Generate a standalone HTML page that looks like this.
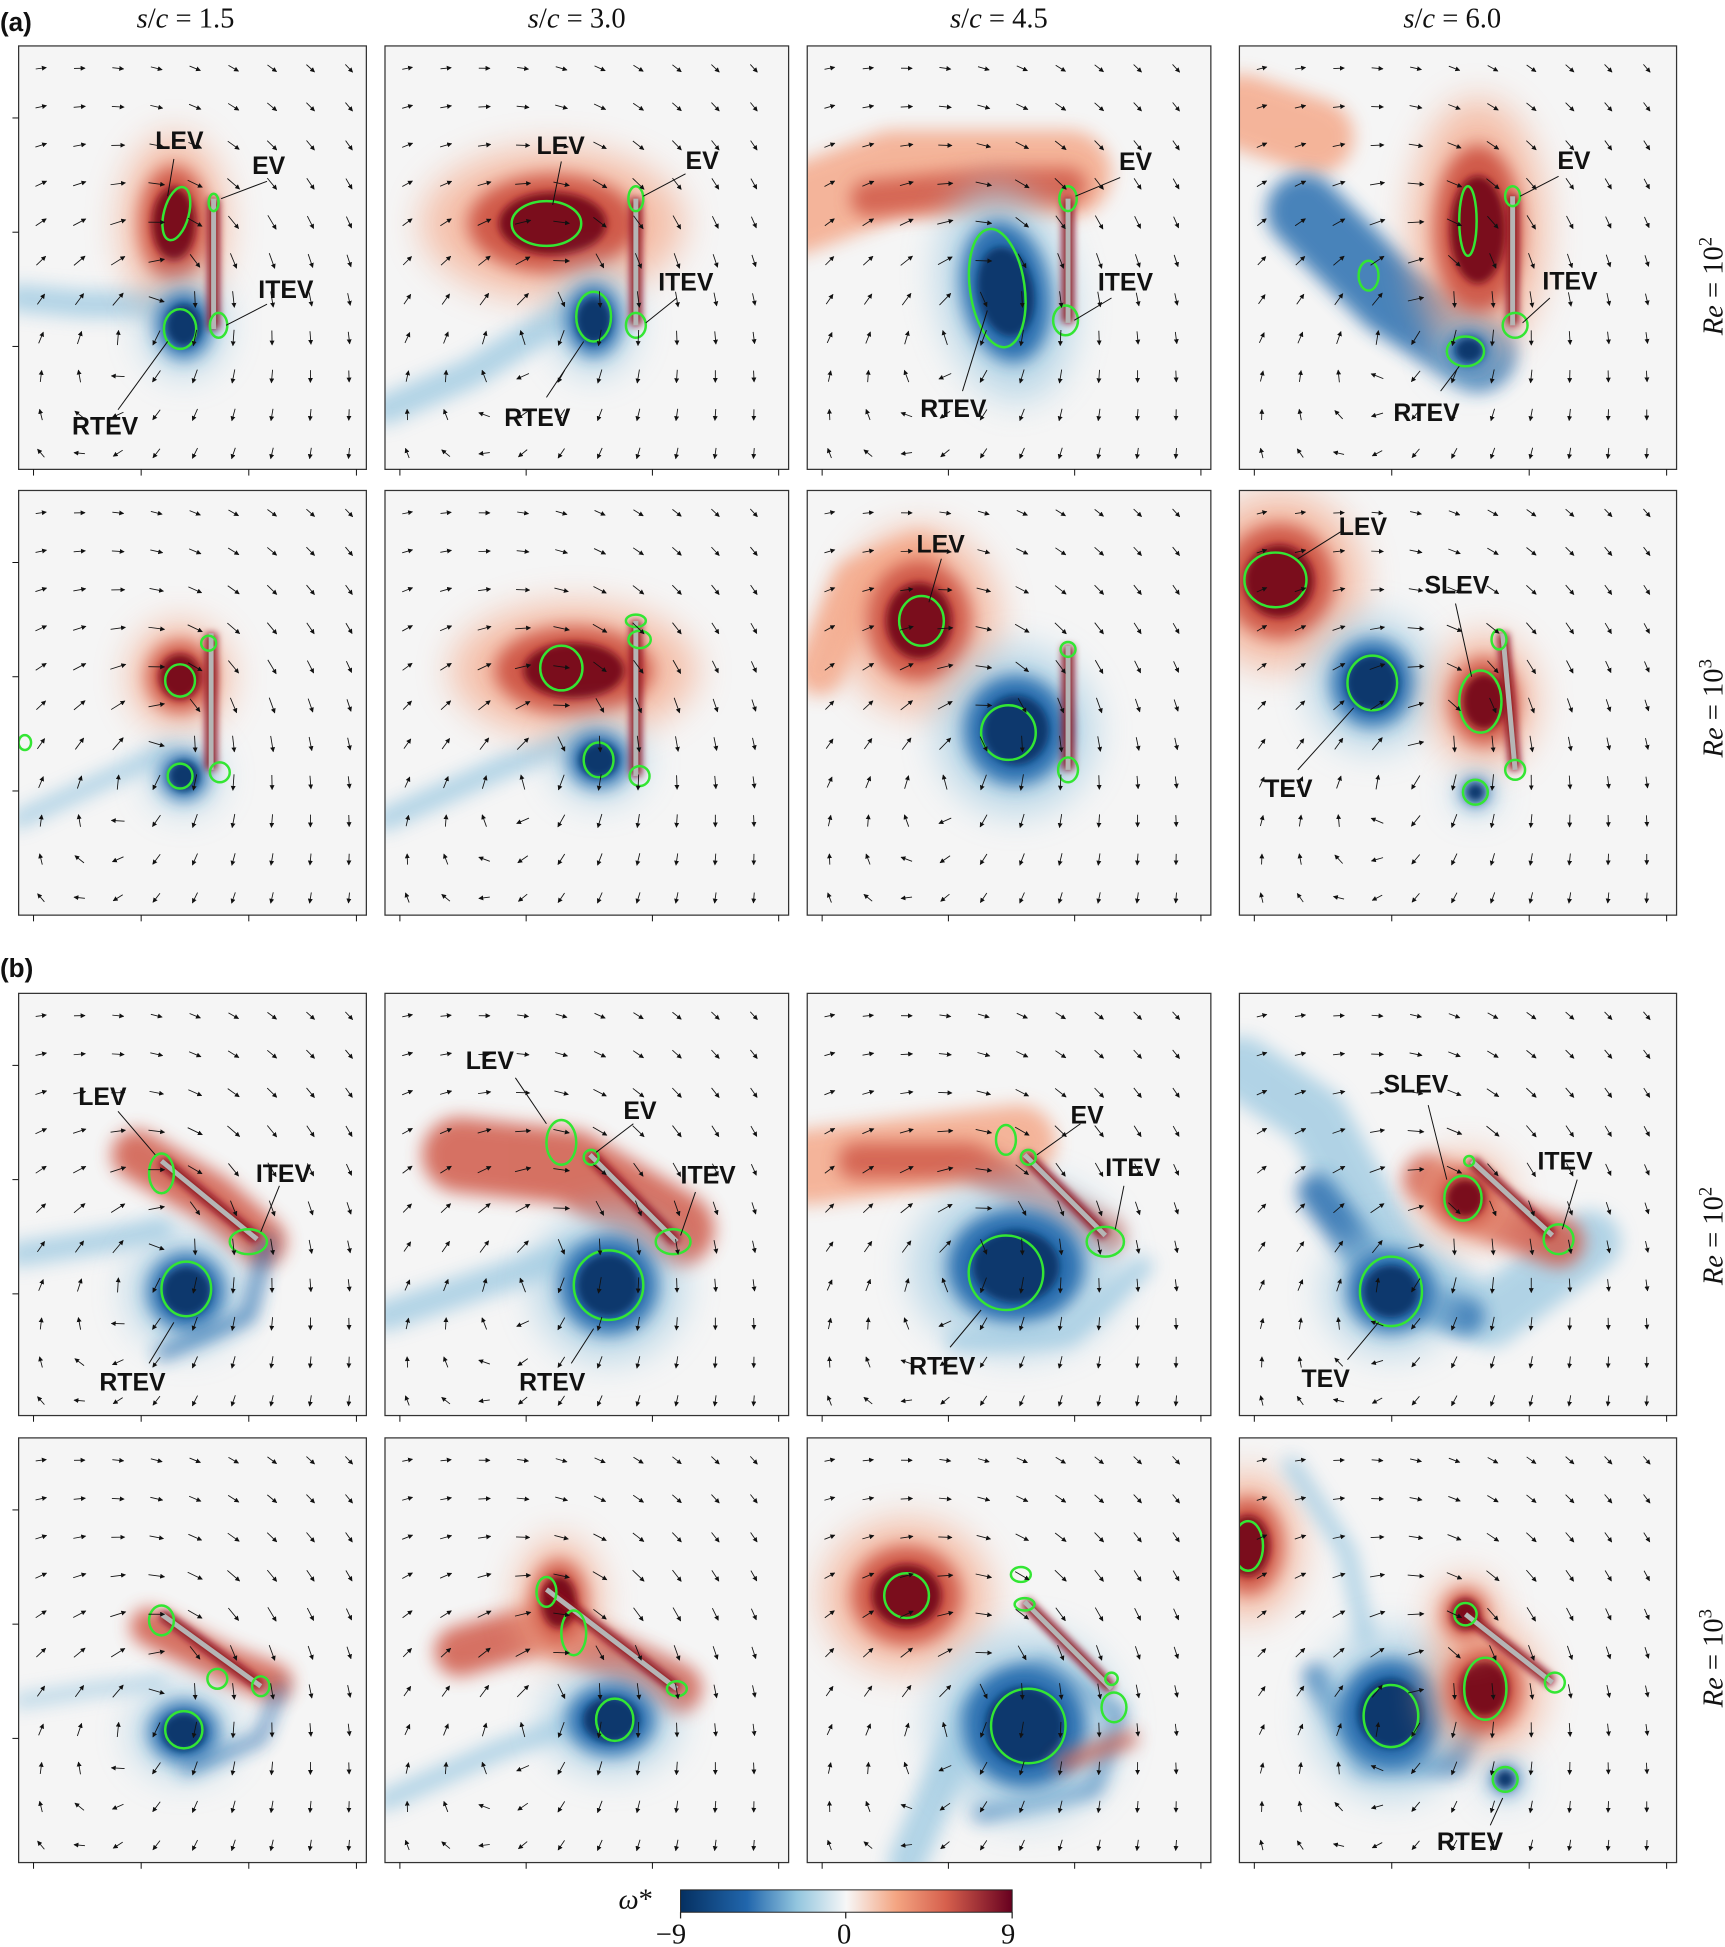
<!DOCTYPE html>
<html><head><meta charset="utf-8"><style>
html,body{margin:0;padding:0;background:#fff;}
svg{display:block}
.lb{font-family:"Liberation Sans",sans-serif;font-weight:bold;font-size:20px;fill:#111;}
.ti{font-family:"Liberation Serif",serif;font-size:23px;fill:#111;}
</style></head><body>
<svg id="s" width="1725" height="1947" viewBox="0 0 1389 1568" preserveAspectRatio="none" xmlns="http://www.w3.org/2000/svg">
<defs>
<filter id="b3" filterUnits="userSpaceOnUse" x="0" y="0" width="1389" height="1568"><feGaussianBlur stdDeviation="3"/></filter>
<filter id="b7" filterUnits="userSpaceOnUse" x="0" y="0" width="1389" height="1568"><feGaussianBlur stdDeviation="7"/></filter>
<filter id="b14" filterUnits="userSpaceOnUse" x="0" y="0" width="1389" height="1568"><feGaussianBlur stdDeviation="14"/></filter>
<linearGradient id="cb" x1="0" x2="1" y1="0" y2="0">
<stop offset="0" stop-color="#053061"/><stop offset="0.2" stop-color="#2166ac"/><stop offset="0.35" stop-color="#92c5de"/><stop offset="0.5" stop-color="#f7f7f7"/><stop offset="0.65" stop-color="#f4a582"/><stop offset="0.8" stop-color="#d6604d"/><stop offset="1" stop-color="#67001f"/>
</linearGradient>
<marker id="ah" markerWidth="4" markerHeight="4" refX="3.5" refY="2" orient="auto" markerUnits="userSpaceOnUse"><path d="M0,0 L4,2 L0,4z" fill="#111"/></marker>
</defs>
<g id="panels"></g>
<g id="texts">
<text class="lb" x="0" y="25" style="font-size:21px">(a)</text>
<text class="lb" x="0" y="787" style="font-size:21px">(b)</text>
<text class="ti" x="110" y="22"><tspan font-style="italic">s</tspan>/<tspan font-style="italic">c</tspan> = 1.5</text>
<text class="ti" x="425" y="22"><tspan font-style="italic">s</tspan>/<tspan font-style="italic">c</tspan> = 3.0</text>
<text class="ti" x="765" y="22"><tspan font-style="italic">s</tspan>/<tspan font-style="italic">c</tspan> = 4.5</text>
<text class="ti" x="1130" y="22"><tspan font-style="italic">s</tspan>/<tspan font-style="italic">c</tspan> = 6.0</text>
<text class="ti" transform="translate(1387,270) rotate(-90)"><tspan font-style="italic">Re</tspan> = 10<tspan dy="-9" font-size="15">2</tspan></text>
<text class="ti" transform="translate(1387,610) rotate(-90)"><tspan font-style="italic">Re</tspan> = 10<tspan dy="-9" font-size="15">3</tspan></text>
<text class="ti" transform="translate(1387,1035) rotate(-90)"><tspan font-style="italic">Re</tspan> = 10<tspan dy="-9" font-size="15">2</tspan></text>
<text class="ti" transform="translate(1387,1375) rotate(-90)"><tspan font-style="italic">Re</tspan> = 10<tspan dy="-9" font-size="15">3</tspan></text>

<text class="lb" x="125" y="120">LEV</text><text class="lb" x="203" y="140">EV</text><text class="lb" x="208" y="240">ITEV</text><text class="lb" x="58" y="350">RTEV</text>
<text class="lb" x="432" y="124">LEV</text><text class="lb" x="552" y="136">EV</text><text class="lb" x="530" y="234">ITEV</text><text class="lb" x="406" y="343">RTEV</text>
<text class="lb" x="901" y="137">EV</text><text class="lb" x="884" y="234">ITEV</text><text class="lb" x="741" y="336">RTEV</text>
<text class="lb" x="1254" y="136">EV</text><text class="lb" x="1242" y="233">ITEV</text><text class="lb" x="1122" y="339">RTEV</text>
<text class="lb" x="738" y="445">LEV</text>
<text class="lb" x="1078" y="431">LEV</text><text class="lb" x="1147" y="478">SLEV</text><text class="lb" x="1018" y="642">TEV</text>
<text class="lb" x="63" y="890">LEV</text><text class="lb" x="206" y="952">ITEV</text><text class="lb" x="80" y="1120">RTEV</text>
<text class="lb" x="375" y="861">LEV</text><text class="lb" x="502" y="901">EV</text><text class="lb" x="548" y="953">ITEV</text><text class="lb" x="418" y="1120">RTEV</text>
<text class="lb" x="862" y="905">EV</text><text class="lb" x="890" y="947">ITEV</text><text class="lb" x="732" y="1107">RTEV</text>
<text class="lb" x="1114" y="880">SLEV</text><text class="lb" x="1238" y="942">ITEV</text><text class="lb" x="1048" y="1117">TEV</text>
<text class="lb" x="1157" y="1490">RTEV</text>
<text class="ti" x="498" y="1537"><tspan font-style="italic">ω</tspan>*</text>
<text class="ti" x="528" y="1565">−9</text><text class="ti" x="674" y="1565">0</text><text class="ti" x="806" y="1565">9</text>
</g>
<rect x="548" y="1522" width="267" height="18" fill="url(#cb)" stroke="#222" stroke-width="0.8"/>
<line x1="548" y1="1540" x2="548" y2="1545" stroke="#222"/><line x1="681" y1="1540" x2="681" y2="1545" stroke="#222"/><line x1="815" y1="1540" x2="815" y2="1545" stroke="#222"/>
</svg>
<script>
var cols=[[15,295],[310,635],[650,975],[998,1350]];
var rows=[[37,378],[395,737],[800,1140],[1158,1500]];
var R={d:"#7a0a1c",m:"#d05a48",l:"#f4a98a"},B={d:"#07386d",m:"#2a6fb0",l:"#a5cde3"};
function blob(cx,cy,rx,ry,rot,s){var C=s>0?R:B;var t="rotate("+(rot||0)+" "+cx+" "+cy+")";
return '<ellipse cx="'+cx+'" cy="'+cy+'" rx="'+rx*1.7+'" ry="'+ry*1.7+'" transform="'+t+'" fill="'+C.l+'" opacity="0.7" filter="url(#b14)"/>'+
'<ellipse cx="'+cx+'" cy="'+cy+'" rx="'+rx*1.1+'" ry="'+ry*1.1+'" transform="'+t+'" fill="'+C.m+'" filter="url(#b7)"/>'+
'<ellipse cx="'+cx+'" cy="'+cy+'" rx="'+rx*0.7+'" ry="'+ry*0.7+'" transform="'+t+'" fill="'+C.d+'" filter="url(#b3)"/>';}
function band(pts,w,s,lvl){var C=s>0?R:B;var c=C[lvl||"l"];return '<polyline points="'+pts+'" fill="none" stroke="'+c+'" stroke-width="'+w+'" stroke-linecap="round" stroke-linejoin="round" filter="url(#b7)" opacity="0.85"/>';}
function g(cx,cy,rx,ry,rot){return '<ellipse cx="'+cx+'" cy="'+cy+'" rx="'+rx+'" ry="'+ry+'" transform="rotate('+(rot||0)+' '+cx+' '+cy+')" fill="none" stroke="#33e633" stroke-width="2"/>';}
function plate(x1,y1,x2,y2){return '<line x1="'+x1+'" y1="'+y1+'" x2="'+x2+'" y2="'+y2+'" stroke="#8a0a1e" stroke-width="9" filter="url(#b3)"/><line x1="'+x1+'" y1="'+y1+'" x2="'+x2+'" y2="'+y2+'" stroke="#b5b5b5" stroke-width="4"/>';}
function ln(x1,y1,x2,y2){return '<line x1="'+x1+'" y1="'+y1+'" x2="'+x2+'" y2="'+y2+'" stroke="#111" stroke-width="0.8"/>';}
var P=[[],[],[],[]];
P[0][0]=band("15,240 70,245 130,245",22,-1)+blob(140,180,25,42,0,1)+blob(148,262,20,24,0,-1)+plate(172,160,172,265)+g(142,172,10,22,15)+g(145,265,13,16)+g(176,262,7,10)+g(172,163,4,7)+ln(140,128,135,158)+ln(215,146,178,160)+ln(215,245,182,262)+ln(95,330,135,275);
P[0][1]=band("310,330 380,300 460,250",24,-1)+blob(445,180,62,36,0,1)+blob(478,258,20,26,0,-1)+plate(512,160,512,262)+g(440,180,28,18)+g(512,160,6,10)+g(512,262,8,10)+g(478,255,14,20)+ln(452,130,445,165)+ln(552,140,518,158)+ln(545,240,520,260)+ln(440,320,470,275);
P[0][2]=band("640,170 720,140 860,140",70,1,"l")+band("700,160 800,150 860,150",30,1,"m")+blob(810,235,32,52,-10,-1)+plate(860,160,860,260)+g(803,232,22,48,-8)+g(860,160,7,10)+g(858,258,10,12)+ln(902,143,866,158)+ln(895,240,865,258)+ln(775,315,795,250);
P[0][3]=band("1000,90 1060,110",60,1,"l")+band("1050,170 1120,240 1190,285",60,-1,"m")+blob(1190,185,32,62,0,1)+blob(1183,282,16,14,0,-1)+plate(1218,158,1218,262)+g(1182,178,7,28)+g(1102,222,8,12)+g(1180,283,15,12)+g(1220,262,10,10)+g(1218,158,6,8)+ln(1255,142,1224,158)+ln(1248,240,1226,260)+ln(1160,315,1175,295);
P[1][0]=band("15,660 80,630 135,605",14,-1)+blob(145,545,24,26,0,1)+blob(148,625,17,17,0,-1)+plate(170,510,170,620)+g(145,548,12,13)+g(145,625,10,10)+g(177,622,8,8)+g(20,598,5,6)+g(168,518,6,6);
P[1][1]=band("310,660 400,620 475,590",18,-1)+blob(462,540,58,32,0,1)+blob(482,612,22,20,0,-1)+plate(512,500,512,625)+g(452,538,17,18)+g(482,612,12,14)+g(515,625,8,8)+g(515,515,9,7)+g(512,500,8,5);
P[1][2]=band("660,540 690,470 740,450",40,1,"l")+blob(740,500,38,44,0,1)+blob(818,588,38,40,0,-1)+plate(860,520,860,620)+g(742,500,18,20)+g(812,590,22,22)+g(860,620,8,10)+g(860,523,6,6)+ln(758,450,748,485);
P[1][3]=blob(1030,468,40,42,0,1)+blob(1105,550,30,32,0,-1)+blob(1195,565,25,32,0,1)+blob(1188,638,10,10,0,-1)+plate(1210,510,1220,620)+g(1027,467,25,22)+g(1105,550,20,22)+g(1192,565,17,25)+g(1188,638,10,10)+g(1220,620,8,8)+g(1207,515,6,8)+ln(1080,428,1045,450)+ln(1172,486,1185,545)+ln(1045,620,1090,570);
P[2][0]=band("15,1010 80,1000 130,990",20,-1)+band("110,930 170,965 210,1000",40,1,"m")+blob(150,1040,28,28,0,-1)+band("130,1090 200,1060 215,1000",10,-1,"m")+plate(130,935,207,998)+g(130,945,10,16)+g(150,1038,20,22)+g(200,1000,15,10)+ln(95,895,125,930)+ln(225,955,210,992)+ln(120,1098,140,1065);
P[2][1]=band("310,1060 400,1030 460,1010",24,-1)+band("370,930 460,940 545,990",60,1,"m")+blob(490,1035,36,36,0,-1)+plate(475,930,545,1000)+g(452,920,12,18)+g(476,932,6,6)+g(542,1000,14,10)+g(490,1035,28,28)+ln(415,868,440,905)+ln(510,905,480,928)+ln(560,960,548,995)+ln(460,1098,478,1070);
P[2][2]=band("650,940 730,930 820,920",60,1,"l")+band("690,935 780,935 890,995",30,1,"m")+blob(818,1020,50,42,0,-1)+band("770,1080 860,1075 920,1020",16,-1,"l")+plate(825,930,890,995)+g(810,918,8,12)+g(828,932,6,6)+g(810,1025,30,30)+g(890,1000,15,12)+ln(870,905,835,930)+ln(905,955,898,990)+ln(765,1085,790,1055);
P[2][3]=band("1000,860 1060,900 1130,1030 1200,1060 1280,1000",50,-1,"l")+band("1060,960 1120,1040 1180,1060",30,-1,"m")+blob(1120,1040,32,30,0,-1)+band("1150,950 1200,980 1255,1000",40,1,"m")+blob(1180,965,22,22,0,1)+plate(1185,935,1250,995)+g(1178,965,15,18)+g(1255,998,12,12)+g(1120,1040,25,28)+g(1183,935,4,4)+ln(1150,890,1165,950)+ln(1270,950,1258,990)+ln(1085,1095,1110,1065);
P[3][0]=band("15,1370 80,1360 130,1355",10,-1)+band("120,1310 180,1340 220,1355",30,1,"m")+blob(148,1395,25,22,0,-1)+band("150,1425 210,1400 225,1360",8,-1,"m")+plate(130,1300,210,1358)+g(130,1305,10,12)+g(148,1393,15,15)+g(175,1352,8,8)+g(210,1358,7,8);
P[3][1]=band("310,1450 400,1410 470,1385",16,-1)+band("370,1330 440,1310 545,1360",40,1,"m")+blob(450,1290,20,30,0,1)+blob(492,1385,32,26,0,-1)+plate(440,1280,545,1360)+g(440,1282,8,12)+g(462,1315,10,18)+g(545,1360,8,6)+g(495,1385,15,17);
P[3][2]=blob(730,1285,40,36,0,1)+band("730,1500 760,1430 790,1370",30,-1,"l")+band("780,1380 840,1340 900,1380 880,1440 790,1460",12,-1,"m")+blob(825,1390,45,45,0,-1)+band("855,1420 910,1400",12,1,"m")+plate(825,1290,895,1360)+g(730,1285,18,18)+g(822,1268,8,6)+g(825,1292,8,5)+g(897,1375,10,12)+g(828,1390,30,30)+g(895,1352,5,5);
P[3][3]=blob(1005,1245,25,35,0,1)+band("1040,1180 1085,1250 1100,1320",14,-1,"l")+band("1060,1350 1100,1420 1170,1420 1200,1360",20,-1,"m")+blob(1120,1380,38,40,0,-1)+blob(1195,1360,28,32,0,1)+blob(1212,1433,10,10,0,-1)+blob(1180,1300,16,18,0,1)+plate(1180,1300,1250,1355)+g(1005,1245,12,20)+g(1120,1382,22,25)+g(1196,1360,17,25)+g(1212,1433,10,10)+g(1180,1300,9,9)+g(1252,1355,8,8)+ln(1200,1470,1210,1448);
var out="";
for(var r=0;r<4;r++)for(var c=0;c<4;c++){
 var x0=cols[c][0],x1=cols[c][1],y0=rows[r][0],y1=rows[r][1];var id="cp"+r+c;
 out+='<clipPath id="'+id+'"><rect x="'+x0+'" y="'+y0+'" width="'+(x1-x0)+'" height="'+(y1-y0)+'"/></clipPath>';
 out+='<rect x="'+x0+'" y="'+y0+'" width="'+(x1-x0)+'" height="'+(y1-y0)+'" fill="#f5f5f5"/>';
 out+='<g clip-path="url(#'+id+')">'+P[r][c];
 var cx=(x0+x1)/2,cy=(y0+y1)/2;
 for(var yy=y0+18;yy<y1;yy+=31)for(var xx=x0+18;xx<x1;xx+=31){
  var dx=xx-cx,dy=yy-cy;var d=Math.sqrt(dx*dx+dy*dy)+30;
  var u=-dy/d*0.9+0.5,v=dx/d*1.2+0.5;
  var m=Math.sqrt(u*u+v*v);var L=Math.min(13,5+8*100/d);
  out+='<line x1="'+(xx-u/m*L/2)+'" y1="'+(yy-v/m*L/2)+'" x2="'+(xx+u/m*L/2)+'" y2="'+(yy+v/m*L/2)+'" stroke="#111" stroke-width="0.7" marker-end="url(#ah)"/>';
 }
 out+='</g><rect x="'+x0+'" y="'+y0+'" width="'+(x1-x0)+'" height="'+(y1-y0)+'" fill="none" stroke="#333" stroke-width="1"/>';
 for(var k=0;k<4;k++){var tx=x0+12+k*(x1-x0-20)/3;out+=ln(tx,y1,tx,y1+5);}
 if(c==0){for(var k=0;k<3;k++){var ty=y0+58+k*92;out+=ln(x0-5,ty,x0,ty);}}
}
document.getElementById("panels").innerHTML=out;
</script>
</body></html>
